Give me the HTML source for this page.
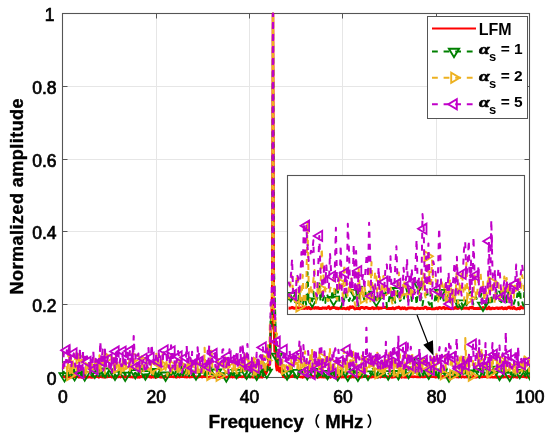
<!DOCTYPE html>
<html><head><meta charset="utf-8"><title>Normalized amplitude vs Frequency</title><style>
html,body{margin:0;padding:0;background:#fff;width:550px;height:438px;overflow:hidden}
svg{display:block}
text{font-family:"Liberation Sans","Noto Sans CJK SC",sans-serif;font-weight:bold;fill:#000}
.tk{font-weight:normal;stroke:#000;stroke-width:0.7px}
.lb{stroke:#000;stroke-width:0.35px}
</style></head><body>
<svg width="550" height="438" viewBox="0 0 550 438">
<rect x="0" y="0" width="550" height="438" fill="#fff"/>
<path d="M156.5,13.5V377.5M249.5,13.5V377.5M342.5,13.5V377.5M436.5,13.5V377.5M62.5,304.5H529.5M62.5,231.5H529.5M62.5,159.5H529.5M62.5,86.5H529.5" stroke="#e6e6e6" stroke-width="1" fill="none"/>
<path d="M62.5,377.5v-5M62.5,13.5v5M156.5,377.5v-5M156.5,13.5v5M249.5,377.5v-5M249.5,13.5v5M342.5,377.5v-5M342.5,13.5v5M436.5,377.5v-5M436.5,13.5v5M529.5,377.5v-5M529.5,13.5v5M62.5,377.5h5M529.5,377.5h-5M62.5,304.5h5M529.5,304.5h-5M62.5,231.5h5M529.5,231.5h-5M62.5,159.5h5M529.5,159.5h-5M62.5,86.5h5M529.5,86.5h-5M62.5,13.5h5M529.5,13.5h-5" stroke="#555555" stroke-width="1" fill="none"/>
<rect x="62.5" y="13.5" width="467.0" height="364.0" fill="none" stroke="#555555" stroke-width="1.1"/>
<defs><clipPath id="cm"><rect x="54.5" y="12.5" width="475.5" height="376.0"/></clipPath><clipPath id="ci"><rect x="288" y="176" width="236" height="138"/></clipPath></defs>
<g clip-path="url(#cm)">
<polyline points="62.9,376.7 63.7,376.3 64.5,376.6 65.2,377.1 66,377 66.8,376.4 67.6,377.4 68.3,376.5 69.1,376.5 69.9,376.9 70.7,377 71.5,377.1 72.2,377.1 73,376.9 73.8,376.9 74.6,376.8 75.4,375.7 76.1,376.5 76.9,376.7 77.7,375.9 78.5,377.1 79.2,377.2 80,376.7 80.8,377.3 81.6,377.4 82.4,376.8 83.1,376.9 83.9,376.3 84.7,376.7 85.5,376.8 86.2,376.9 87,377.1 87.8,377.4 88.6,377.1 89.4,376.7 90.1,377.1 90.9,377 91.7,377.5 92.5,376.5 93.3,377.2 94,377.1 94.8,376.4 95.6,376.8 96.4,376.4 97.1,376.7 97.9,376.6 98.7,377.3 99.5,376.8 100.3,376.8 101,376.4 101.8,377 102.6,376.8 103.4,377.3 104.2,377 104.9,377 105.7,377.2 106.5,376.5 107.3,377 108,376 108.8,376.8 109.6,376.8 110.4,376.7 111.2,376.7 111.9,377.2 112.7,376.9 113.5,377.1 114.3,376.9 115,377.3 115.8,376.1 116.6,377.1 117.4,376.7 118.2,377 118.9,376.4 119.7,376.7 120.5,377.2 121.3,376.4 122.1,376.2 122.8,376.3 123.6,376.8 124.4,377.2 125.2,377.1 125.9,376.2 126.7,376.8 127.5,377.2 128.3,376.4 129.1,376.7 129.8,376.8 130.6,377 131.4,376.9 132.2,377.1 133,377.3 133.7,376.4 134.5,376.9 135.3,376.8 136.1,377 136.8,376.6 137.6,377.4 138.4,377 139.2,377.4 140,377.2 140.7,376.1 141.5,376.7 142.3,376.9 143.1,376.8 143.8,376.4 144.6,377 145.4,376.8 146.2,376.7 147,377 147.7,376.8 148.5,376.6 149.3,376.3 150.1,377.2 150.9,376.2 151.6,377.4 152.4,376.6 153.2,376.5 154,377.2 154.7,376.9 155.5,376.5 156.3,377.4 157.1,376.7 157.9,376.5 158.6,376.8 159.4,376.6 160.2,377.1 161,377.1 161.7,377 162.5,377.2 163.3,377 164.1,376.2 164.9,376.8 165.6,377 166.4,377.1 167.2,376.2 168,376.9 168.8,376 169.5,376.8 170.3,376.8 171.1,376.3 171.9,376.6 172.6,376.8 173.4,376.9 174.2,376.4 175,376.9 175.8,376.3 176.5,377.3 177.3,376.9 178.1,376.8 178.9,376.2 179.7,377.1 180.4,376.5 181.2,376.7 182,376.6 182.8,376.7 183.5,376 184.3,377 185.1,376.9 185.9,377.1 186.7,377.3 187.4,377.1 188.2,376.3 189,376.5 189.8,377.2 190.5,376.8 191.3,376.9 192.1,376.8 192.9,376.7 193.7,377 194.4,376.1 195.2,376.9 196,376.7 196.8,376.7 197.6,377.2 198.3,377.3 199.1,376.9 199.9,376.6 200.7,376.5 201.4,376.6 202.2,377.2 203,376.3 203.8,376.5 204.6,376.4 205.3,376.8 206.1,376.3 206.9,377.3 207.7,377.4 208.4,377.4 209.2,377.1 210,377.1 210.8,377.1 211.6,376.8 212.3,377.3 213.1,376.8 213.9,377.2 214.7,376.7 215.5,377.4 216.2,377 217,376.2 217.8,376.8 218.6,376.5 219.3,376.7 220.1,376.7 220.9,377.1 221.7,376.8 222.5,377.3 223.2,376.5 224,376.1 224.8,376.4 225.6,377.3 226.3,377 227.1,377 227.9,377.2 228.7,376.7 229.5,376.5 230.2,377 231,376.4 231.8,376.5 232.6,377.2 233.4,376.6 234.1,376.4 234.9,377.1 235.7,376.8 236.5,376.7 237.2,376.8 238,377.3 238.8,376.7 239.6,376.7 240.4,376.5 241.1,376.5 241.9,377 242.7,376.6 243.5,376.4 244.3,376.3 245,377.2 245.8,377.4 246.6,376.7 247.4,377.1 248.1,376.8 248.9,376.2 249.7,377 250.5,377.1 251.3,376.9 252,376.7 252.8,377.2 253.6,377 254.4,377.2 255.1,376.7 255.9,376.5 256.7,377 257.5,377 258.3,376.8 259,377.1 259.8,377.1 260.6,377 261.4,376.9 262.2,377.3 262.9,376.6 263.7,368.8 264.5,372.2 265.3,374.7 266,373.5 266.8,372 267.6,368.8 268.4,364.1 269.2,349.4 269.9,364.5 270.7,332.2 271.5,322.8 272.3,289.7 273,13.5 273.8,316.4 274.6,351.2 275.4,335.6 276.2,365.6 276.9,370.1 277.7,356.1 278.5,361.2 279.3,371.5 280.1,371.5 280.8,363.6 281.6,373 282.4,369.3 283.2,376.8 283.9,376.6 284.7,377.1 285.5,377.1 286.3,376.8 287.1,376.6 287.8,376.3 288.6,377.2 289.4,377.2 290.2,376.5 291,376.7 291.7,376.6 292.5,375.7 293.3,376.2 294.1,376.4 294.8,376.6 295.6,377 296.4,376.7 297.2,377.2 298,376.6 298.7,376.6 299.5,376.6 300.3,376.9 301.1,377 301.8,376.9 302.6,377.4 303.4,376.4 304.2,376.8 305,377 305.7,376.8 306.5,376.6 307.3,377 308.1,376.5 308.9,376.3 309.6,377 310.4,377.2 311.2,376.6 312,375.8 312.7,377.2 313.5,376.6 314.3,376.5 315.1,376.3 315.9,377.2 316.6,377.3 317.4,375.9 318.2,377.2 319,377.2 319.8,376.8 320.5,376.9 321.3,376.6 322.1,377.1 322.9,376.3 323.6,377.1 324.4,376.6 325.2,377.3 326,376.9 326.8,377.4 327.5,377 328.3,377 329.1,376.6 329.9,376.9 330.6,377.3 331.4,375.7 332.2,376.4 333,376.3 333.8,377.1 334.5,377 335.3,377.1 336.1,377.2 336.9,377.4 337.7,376.9 338.4,377.2 339.2,377.2 340,376.4 340.8,376.9 341.5,377.2 342.3,376.7 343.1,377.1 343.9,376.8 344.7,377.1 345.4,376.8 346.2,376.7 347,376.8 347.8,377 348.5,376.5 349.3,376.4 350.1,377.2 350.9,377.2 351.7,377.2 352.4,376 353.2,376.2 354,377.1 354.8,376.1 355.6,377.1 356.3,376.9 357.1,376.9 357.9,376.3 358.7,377.3 359.4,377 360.2,376.8 361,377.3 361.8,377.1 362.6,376.9 363.3,376.4 364.1,376.6 364.9,376.5 365.7,376.6 366.4,376.6 367.2,376.4 368,376.7 368.8,376.6 369.6,377 370.3,377.2 371.1,376.6 371.9,377.2 372.7,376.3 373.5,376.8 374.2,377 375,376.2 375.8,377.2 376.6,376.8 377.3,377.3 378.1,376.1 378.9,376.8 379.7,376.5 380.5,377.1 381.2,376.5 382,376.6 382.8,376.7 383.6,376.2 384.4,376.9 385.1,376.9 385.9,376.7 386.7,376.5 387.5,377 388.2,376.7 389,377.1 389.8,376.8 390.6,376.6 391.4,377.3 392.1,376.6 392.9,377.4 393.7,376.1 394.5,376.9 395.2,376.9 396,376.6 396.8,376.8 397.6,376.6 398.4,377.3 399.1,376.8 399.9,376.8 400.7,376.2 401.5,377.3 402.3,376.9 403,376.7 403.8,376.8 404.6,377.3 405.4,376.8 406.1,377.1 406.9,377.1 407.7,376.4 408.5,377.1 409.3,376.9 410,376.6 410.8,376.6 411.6,376.8 412.4,376.5 413.1,376.9 413.9,376.7 414.7,376.5 415.5,376.7 416.3,376.7 417,376.9 417.8,376.8 418.6,377 419.4,376.6 420.2,377 420.9,376.9 421.7,376.6 422.5,376.9 423.3,377 424,376.5 424.8,377 425.6,376.4 426.4,376.5 427.2,376.9 427.9,376.6 428.7,377.4 429.5,377 430.3,376.4 431.1,376.8 431.8,376.8 432.6,376.7 433.4,376.7 434.2,376.8 434.9,376.9 435.7,377.2 436.5,377 437.3,377 438.1,376.9 438.8,375.5 439.6,377 440.4,376.9 441.2,377 441.9,376.8 442.7,376.2 443.5,376.4 444.3,377 445.1,377.1 445.8,376.4 446.6,376.9 447.4,376.7 448.2,377.3 449,376.4 449.7,377 450.5,376.9 451.3,377.1 452.1,376.9 452.8,376.5 453.6,376.5 454.4,376.9 455.2,376.6 456,376.9 456.7,377 457.5,376.8 458.3,377.1 459.1,377 459.8,376.6 460.6,376.6 461.4,377.3 462.2,376.6 463,376.5 463.7,376.9 464.5,377.3 465.3,376.7 466.1,377.1 466.9,376.7 467.6,377 468.4,376.7 469.2,377.1 470,376.9 470.7,376.8 471.5,376.7 472.3,377.1 473.1,376.1 473.9,377 474.6,377 475.4,377.1 476.2,377.3 477,376.9 477.8,376.6 478.5,376.6 479.3,377.1 480.1,377.2 480.9,377 481.6,376.6 482.4,376.9 483.2,376.3 484,376.7 484.8,376.7 485.5,376.6 486.3,376.6 487.1,377 487.9,377.1 488.6,376.9 489.4,376.9 490.2,377.2 491,376.9 491.8,376.7 492.5,377.2 493.3,377.2 494.1,377.2 494.9,377.1 495.7,376.1 496.4,377.4 497.2,377.2 498,377.2 498.8,376.9 499.5,377.4 500.3,376.9 501.1,377.2 501.9,377.1 502.7,376.5 503.4,377.2 504.2,376.7 505,376.9 505.8,376.9 506.5,376.5 507.3,377.2 508.1,376.3 508.9,376.3 509.7,376.7 510.4,377.3 511.2,376.7 512,376.8 512.8,376.6 513.6,377.1 514.3,376.1 515.1,376.4 515.9,377.2 516.7,377 517.4,377.4 518.2,376.5 519,376.3 519.8,375.8 520.6,376.7 521.3,376.7 522.1,376.7 522.9,376.8 523.7,376.2 524.5,376.8 525.2,377 526,376.8 526.8,377.4 527.6,376.6 528.3,376.7 529.1,376.9 529.9,376.4" fill="none" stroke="#ff0000" stroke-width="2.6" stroke-linejoin="round"/>
<polyline points="62.9,375.9 63.7,371.8 64.5,376 65.2,373.8 66,376.7 66.8,373.6 67.6,371.5 68.3,376.2 69.1,375 69.9,369.1 70.7,373.3 71.5,374.8 72.2,373.1 73,374.1 73.8,367.6 74.6,374.9 75.4,372.3 76.1,370.5 76.9,372.4 77.7,374.5 78.5,372.5 79.2,372.7 80,372.6 80.8,376.8 81.6,369.6 82.4,372.6 83.1,375.4 83.9,369.5 84.7,375 85.5,374 86.2,371.4 87,374.1 87.8,374.9 88.6,374.9 89.4,376.3 90.1,375.3 90.9,375 91.7,375.6 92.5,376.4 93.3,372 94,375.4 94.8,372.4 95.6,370.5 96.4,375 97.1,373.5 97.9,373.8 98.7,376.3 99.5,375.9 100.3,371.1 101,374 101.8,371.9 102.6,376.4 103.4,373.3 104.2,371.3 104.9,371.3 105.7,377.2 106.5,373.7 107.3,374.5 108,372.3 108.8,376.3 109.6,375.1 110.4,371.8 111.2,374 111.9,374.1 112.7,369.4 113.5,374.8 114.3,376.6 115,374.4 115.8,375.7 116.6,376.2 117.4,373.5 118.2,369.8 118.9,373.4 119.7,373 120.5,374.8 121.3,373.5 122.1,372.3 122.8,373.4 123.6,371.9 124.4,373.6 125.2,375.4 125.9,373.4 126.7,373.9 127.5,375.6 128.3,373.2 129.1,371.8 129.8,375.8 130.6,373.6 131.4,372.5 132.2,374.4 133,375 133.7,374.5 134.5,373.6 135.3,372.8 136.1,373.5 136.8,376 137.6,371.8 138.4,370.5 139.2,376.1 140,375.2 140.7,375.6 141.5,367.9 142.3,370.7 143.1,376.6 143.8,374.7 144.6,375.5 145.4,374 146.2,370.5 147,376.3 147.7,375.6 148.5,373.9 149.3,373.7 150.1,372.4 150.9,374.2 151.6,375.8 152.4,374.6 153.2,368.7 154,372.3 154.7,375 155.5,371.9 156.3,374.8 157.1,372.1 157.9,377 158.6,371.2 159.4,375.7 160.2,374.1 161,372.9 161.7,373.8 162.5,375.6 163.3,375.8 164.1,375 164.9,376.5 165.6,375.3 166.4,375.9 167.2,374 168,374.6 168.8,373.4 169.5,375 170.3,376.7 171.1,374.7 171.9,372.3 172.6,375.1 173.4,374.3 174.2,372.3 175,374.3 175.8,371 176.5,370.6 177.3,374.8 178.1,372.5 178.9,375.1 179.7,375.8 180.4,374.2 181.2,373.3 182,370.3 182.8,375.8 183.5,372.6 184.3,374 185.1,375.9 185.9,369.2 186.7,372.7 187.4,375.9 188.2,366.7 189,376.1 189.8,376.1 190.5,374.7 191.3,370.2 192.1,376.7 192.9,370.6 193.7,373.2 194.4,376.3 195.2,373.5 196,374.1 196.8,373.5 197.6,372.4 198.3,372.8 199.1,366.9 199.9,375.7 200.7,371.8 201.4,374.3 202.2,372.1 203,371 203.8,367.9 204.6,375.1 205.3,374.1 206.1,370.1 206.9,370 207.7,374.5 208.4,370.2 209.2,374.3 210,374.5 210.8,372.3 211.6,374 212.3,374.1 213.1,374.4 213.9,374.2 214.7,375.8 215.5,376.4 216.2,372.3 217,373.5 217.8,372.9 218.6,371.9 219.3,375.3 220.1,375.2 220.9,375 221.7,374.9 222.5,372.3 223.2,374.5 224,374.8 224.8,373.1 225.6,375.5 226.3,376 227.1,372.7 227.9,372.3 228.7,374.9 229.5,373.1 230.2,376.7 231,374.4 231.8,373.4 232.6,375.1 233.4,374.6 234.1,373.3 234.9,373.4 235.7,375.7 236.5,372.7 237.2,376.2 238,369.3 238.8,375.4 239.6,375.1 240.4,375.4 241.1,367.9 241.9,375 242.7,373.3 243.5,368 244.3,369.9 245,376.6 245.8,373.7 246.6,373.3 247.4,369.8 248.1,374.7 248.9,374.7 249.7,377.2 250.5,376.7 251.3,373.6 252,376.3 252.8,374.2 253.6,374.7 254.4,376.3 255.1,376.7 255.9,370.4 256.7,374.2 257.5,375.4 258.3,372.6 259,377.1 259.8,375.2 260.6,369.6 261.4,370.9 262.2,373.1 262.9,376.1 263.7,363.1 264.5,371.3 265.3,366.2 266,370.5 266.8,372.5 267.6,362.3 268.4,351.4 269.2,345.3 269.9,370.8 270.7,315.4 271.5,328.7 272.3,304.9 273,13.5 273.8,262.1 274.6,292.6 275.4,323.6 276.2,358 276.9,356.4 277.7,347.8 278.5,364.4 279.3,355.9 280.1,359.2 280.8,367.1 281.6,362.1 282.4,370.7 283.2,375.7 283.9,375.9 284.7,372.7 285.5,371.8 286.3,372.1 287.1,374.1 287.8,375.6 288.6,376.7 289.4,371.5 290.2,369 291,375.2 291.7,367.6 292.5,374.4 293.3,374.8 294.1,373.8 294.8,377.1 295.6,374.2 296.4,375.4 297.2,372.6 298,373.8 298.7,371.3 299.5,370.9 300.3,374.8 301.1,375 301.8,370.2 302.6,373.8 303.4,376.1 304.2,376.6 305,368.1 305.7,373.4 306.5,376.5 307.3,373.8 308.1,373.8 308.9,374.2 309.6,369.9 310.4,370 311.2,375.9 312,375.7 312.7,374.3 313.5,368.1 314.3,373.2 315.1,372.5 315.9,373.4 316.6,375.4 317.4,371.8 318.2,377 319,372.7 319.8,375.5 320.5,374 321.3,369.1 322.1,371.3 322.9,376.4 323.6,374.2 324.4,373 325.2,376.4 326,375.1 326.8,376.9 327.5,373.6 328.3,374.5 329.1,373.8 329.9,374.9 330.6,373 331.4,375.6 332.2,370.8 333,369.6 333.8,373.9 334.5,374 335.3,371.4 336.1,374.9 336.9,371.9 337.7,375 338.4,372.6 339.2,374.7 340,373.3 340.8,370.4 341.5,376.5 342.3,368.5 343.1,373.6 343.9,374.5 344.7,374.6 345.4,376.3 346.2,375.1 347,373.2 347.8,375.3 348.5,372.9 349.3,369.6 350.1,368.8 350.9,371 351.7,371.9 352.4,375.6 353.2,369.3 354,375.4 354.8,371.3 355.6,371.2 356.3,373.2 357.1,373.7 357.9,375.4 358.7,373.8 359.4,374.9 360.2,375.9 361,375.9 361.8,371.9 362.6,370.5 363.3,375.8 364.1,377 364.9,375.1 365.7,375.8 366.4,375.5 367.2,373.4 368,374.3 368.8,374.2 369.6,375.4 370.3,372.9 371.1,374.9 371.9,374.4 372.7,374 373.5,370.8 374.2,375.2 375,372.6 375.8,374.8 376.6,370.9 377.3,374.4 378.1,371.6 378.9,371.2 379.7,372.9 380.5,376.1 381.2,375.8 382,368 382.8,376.7 383.6,373.3 384.4,369.7 385.1,377 385.9,375.7 386.7,375.4 387.5,376.2 388.2,374 389,373.4 389.8,374.8 390.6,376 391.4,371.9 392.1,371.9 392.9,373.5 393.7,375.8 394.5,373.6 395.2,373.1 396,374.2 396.8,371.3 397.6,374.4 398.4,373.8 399.1,376 399.9,373.5 400.7,372.2 401.5,372.5 402.3,375.1 403,367.9 403.8,369.6 404.6,374.3 405.4,374.3 406.1,368.9 406.9,375.6 407.7,373.1 408.5,372.6 409.3,373.8 410,367.4 410.8,374 411.6,374 412.4,375 413.1,370.6 413.9,374.8 414.7,372.7 415.5,374.3 416.3,370.3 417,370 417.8,376.7 418.6,361.5 419.4,373.3 420.2,376.3 420.9,373.9 421.7,376.5 422.5,373.6 423.3,375.5 424,372.8 424.8,374.9 425.6,373.3 426.4,371.7 427.2,370.2 427.9,373.1 428.7,373.5 429.5,377.2 430.3,374.5 431.1,369.6 431.8,375.9 432.6,371.3 433.4,373 434.2,374.9 434.9,372.1 435.7,374.9 436.5,370.9 437.3,376.2 438.1,375.9 438.8,372.3 439.6,374.1 440.4,375.8 441.2,373.8 441.9,374.9 442.7,373.6 443.5,372.4 444.3,371.4 445.1,376.4 445.8,373.4 446.6,368.6 447.4,374.1 448.2,372.2 449,376.1 449.7,371.2 450.5,373.4 451.3,371 452.1,372.1 452.8,371.3 453.6,376.4 454.4,372.6 455.2,375.5 456,375.1 456.7,374.8 457.5,373.4 458.3,373.1 459.1,370.3 459.8,377 460.6,375.5 461.4,374.6 462.2,371.8 463,373.6 463.7,373.8 464.5,372.3 465.3,373 466.1,374.9 466.9,376.2 467.6,374.1 468.4,371.1 469.2,373.3 470,376.5 470.7,374.2 471.5,374.5 472.3,373.4 473.1,373.4 473.9,369.9 474.6,373 475.4,374.3 476.2,373.2 477,371 477.8,369.8 478.5,374 479.3,371.8 480.1,371.8 480.9,369.5 481.6,375 482.4,375.9 483.2,371.7 484,374.9 484.8,371.5 485.5,373.3 486.3,373.8 487.1,376.2 487.9,372.1 488.6,376.4 489.4,369.5 490.2,371.2 491,374.9 491.8,375.9 492.5,371.1 493.3,374 494.1,375.9 494.9,373.9 495.7,375.2 496.4,374.3 497.2,373.1 498,370.6 498.8,371.9 499.5,374.6 500.3,374 501.1,373.9 501.9,368.2 502.7,376.2 503.4,373.8 504.2,366.5 505,374.4 505.8,375.1 506.5,373.6 507.3,374.8 508.1,370.4 508.9,376.2 509.7,375.4 510.4,376.2 511.2,372.6 512,374.9 512.8,370.9 513.6,371 514.3,370.2 515.1,375.1 515.9,377.4 516.7,374.4 517.4,369.6 518.2,372.2 519,376.4 519.8,372.7 520.6,370.6 521.3,369.4 522.1,372.6 522.9,371.3 523.7,371.6 524.5,374.6 525.2,376.1 526,372.5 526.8,375.8 527.6,374.5 528.3,367.3 529.1,373.5 529.9,373.7" fill="none" stroke="#008000" stroke-width="2.1" stroke-dasharray="6,6" stroke-linejoin="round"/><path d="M59.4,373.1 69.6,373.1 64.5,381.6ZM69.5,372.1 79.7,372.1 74.6,380.6ZM79.6,372.2 89.8,372.2 84.7,380.7ZM89.7,369.6 99.9,369.6 94.8,378.1ZM99.8,368.5 110,368.5 104.9,377ZM109.9,371.6 120.1,371.6 115,380.1ZM120.1,372.6 130.3,372.6 125.2,381.1ZM130.2,370 140.4,370 135.3,378.5ZM140.3,371.2 150.5,371.2 145.4,379.7ZM150.4,369 160.6,369 155.5,377.5ZM160.5,372.5 170.7,372.5 165.6,381ZM170.7,368.2 180.9,368.2 175.8,376.7ZM180.8,366.4 191,366.4 185.9,374.9ZM190.9,371.2 201.1,371.2 196,379.7ZM201,367.3 211.2,367.3 206.1,375.8ZM211.1,369.5 221.3,369.5 216.2,378ZM221.2,373.2 231.4,373.2 226.3,381.7ZM231.4,369.8 241.6,369.8 236.5,378.3ZM241.5,370.5 251.7,370.5 246.6,379ZM251.6,371.4 261.8,371.4 256.7,379.9ZM261.7,369.6 271.9,369.6 266.8,378.1ZM271.8,353.6 282,353.6 276.9,362.1ZM282,371.3 292.2,371.3 287.1,379.8ZM292.1,369.8 302.3,369.8 297.2,378.3ZM302.2,371 312.4,371 307.3,379.5ZM312.3,369 322.5,369 317.4,377.5ZM322.4,370.8 332.6,370.8 327.5,379.3ZM332.6,372.1 342.8,372.1 337.7,380.6ZM342.7,372.4 352.9,372.4 347.8,380.9ZM352.8,372.6 363,372.6 357.9,381.1ZM362.9,371.4 373.1,371.4 368,379.9ZM373,368.8 383.2,368.8 378.1,377.3ZM383.1,371.2 393.3,371.2 388.2,379.7ZM393.3,371 403.5,371 398.4,379.5ZM403.4,369.7 413.6,369.7 408.5,378.2ZM413.5,358.7 423.7,358.7 418.6,367.2ZM423.6,370.6 433.8,370.6 428.7,379.1ZM433.7,369.5 443.9,369.5 438.8,378ZM443.9,373.3 454.1,373.3 449,381.8ZM454,367.5 464.2,367.5 459.1,376ZM464.1,370.5 474.3,370.5 469.2,379ZM474.2,369 484.4,369 479.3,377.5ZM484.3,366.6 494.5,366.6 489.4,375.1ZM494.4,371.7 504.6,371.7 499.5,380.2ZM504.6,372.6 514.8,372.6 509.7,381.1ZM514.7,369.8 524.9,369.8 519.8,378.3ZM524.8,370.9 535,370.9 529.9,379.4Z" fill="none" stroke="#008000" stroke-width="1.8"/>
<polyline points="62.9,363 63.7,365 64.5,369.7 65.2,366.7 66,365.6 66.8,366.7 67.6,373.3 68.3,350.5 69.1,354.7 69.9,375.1 70.7,356.5 71.5,366.7 72.2,373 73,361.3 73.8,368.2 74.6,355.4 75.4,361.1 76.1,366.6 76.9,374.7 77.7,351.5 78.5,364.1 79.2,358.3 80,370.6 80.8,362.2 81.6,359.7 82.4,369.3 83.1,368.5 83.9,369.6 84.7,376.6 85.5,371.2 86.2,369.7 87,373.3 87.8,362.6 88.6,368.3 89.4,366.2 90.1,370.4 90.9,369.2 91.7,362.9 92.5,367.7 93.3,365.7 94,368.3 94.8,366.4 95.6,358.9 96.4,366.5 97.1,366.9 97.9,364.2 98.7,373.8 99.5,355.2 100.3,367.2 101,370.9 101.8,362.7 102.6,361.4 103.4,365.2 104.2,358 104.9,373.7 105.7,366.8 106.5,354.5 107.3,358 108,365 108.8,365.6 109.6,368.8 110.4,366.1 111.2,366.4 111.9,358.5 112.7,361.1 113.5,363.2 114.3,357.7 115,374.3 115.8,362.5 116.6,367.7 117.4,362.9 118.2,370.2 118.9,367.7 119.7,361.2 120.5,375.2 121.3,365.9 122.1,367.4 122.8,360.4 123.6,370.6 124.4,361.2 125.2,371 125.9,365.6 126.7,366.4 127.5,364.8 128.3,359.5 129.1,359.5 129.8,370.9 130.6,363 131.4,365.1 132.2,368.9 133,362.4 133.7,358.9 134.5,361.5 135.3,358.1 136.1,372.9 136.8,372.2 137.6,362.6 138.4,370 139.2,365.9 140,367.3 140.7,372.6 141.5,362.9 142.3,363.1 143.1,372.6 143.8,370.7 144.6,361.8 145.4,358.2 146.2,359.9 147,367.2 147.7,369.1 148.5,368 149.3,372.1 150.1,367.3 150.9,371.2 151.6,372.3 152.4,368.9 153.2,374.3 154,367.7 154.7,364 155.5,364.8 156.3,353.7 157.1,359.3 157.9,365.1 158.6,358.8 159.4,368 160.2,361.9 161,370.4 161.7,366.8 162.5,353.1 163.3,365.7 164.1,367.1 164.9,362.1 165.6,369.9 166.4,361 167.2,375.8 168,371.1 168.8,372 169.5,370.8 170.3,356.4 171.1,375.6 171.9,370.1 172.6,366.1 173.4,363.9 174.2,362.4 175,368.9 175.8,371.3 176.5,360.4 177.3,370.4 178.1,374.3 178.9,371.2 179.7,367.3 180.4,356.6 181.2,363.4 182,366.2 182.8,366.9 183.5,364.1 184.3,365.2 185.1,369.6 185.9,373.6 186.7,371.6 187.4,362.2 188.2,365.1 189,361.9 189.8,374.9 190.5,358.7 191.3,368.9 192.1,357.6 192.9,365.8 193.7,366.5 194.4,361.4 195.2,365.3 196,364.4 196.8,372.4 197.6,365.6 198.3,369.3 199.1,372 199.9,370 200.7,367.5 201.4,370.7 202.2,362.6 203,373 203.8,376 204.6,347.7 205.3,365.4 206.1,367.1 206.9,371.5 207.7,371.5 208.4,368.6 209.2,362.1 210,375 210.8,350.9 211.6,350.9 212.3,366.3 213.1,369.2 213.9,371.1 214.7,371.9 215.5,369.8 216.2,350.2 217,376.8 217.8,362.2 218.6,356.8 219.3,375.8 220.1,374.2 220.9,363.3 221.7,364.4 222.5,369.9 223.2,360.1 224,371.5 224.8,368.3 225.6,373.2 226.3,357.4 227.1,373.8 227.9,372 228.7,362.6 229.5,367.2 230.2,364.6 231,363.3 231.8,365.6 232.6,371.7 233.4,364 234.1,370.6 234.9,370.6 235.7,368 236.5,373.2 237.2,373.4 238,364.8 238.8,363.1 239.6,369.1 240.4,368.8 241.1,371.5 241.9,366.9 242.7,366 243.5,357.2 244.3,375 245,358.4 245.8,350.8 246.6,369.4 247.4,363.4 248.1,361.2 248.9,364.8 249.7,370.3 250.5,365.3 251.3,359.6 252,373.3 252.8,367.5 253.6,375.6 254.4,360.6 255.1,362.3 255.9,374.8 256.7,363 257.5,364.1 258.3,373 259,366.8 259.8,364.1 260.6,369.6 261.4,367.2 262.2,353.6 262.9,365.1 263.7,363.2 264.5,368 265.3,373.1 266,360.5 266.8,358.6 267.6,345.2 268.4,352 269.2,360.8 269.9,324.6 270.7,331.8 271.5,323.9 272.3,272.5 273,13.5 273.8,291.2 274.6,331.2 275.4,317.9 276.2,338.7 276.9,333.6 277.7,360.3 278.5,346.3 279.3,353.4 280.1,368 280.8,365.6 281.6,364.6 282.4,360.1 283.2,367.1 283.9,365.2 284.7,369 285.5,372.5 286.3,365.2 287.1,367.4 287.8,369.5 288.6,370.7 289.4,364 290.2,369.9 291,366.1 291.7,370.7 292.5,362.9 293.3,363.9 294.1,361.6 294.8,357.5 295.6,363.6 296.4,363.2 297.2,369.5 298,360.8 298.7,368.9 299.5,351.4 300.3,347.8 301.1,364.7 301.8,361 302.6,366.6 303.4,363.3 304.2,373 305,351.4 305.7,361.8 306.5,372.7 307.3,371 308.1,366.1 308.9,362.7 309.6,372.5 310.4,355.3 311.2,369.4 312,349.1 312.7,362.9 313.5,367.4 314.3,369.2 315.1,373.6 315.9,373.8 316.6,365.2 317.4,362.4 318.2,358.4 319,369.2 319.8,356.9 320.5,370.2 321.3,356.8 322.1,357.9 322.9,372.4 323.6,360.2 324.4,363.9 325.2,355.7 326,360.8 326.8,366.7 327.5,367.1 328.3,369.1 329.1,360 329.9,347.4 330.6,372.3 331.4,362.5 332.2,370.5 333,371.9 333.8,371.7 334.5,366.1 335.3,370.4 336.1,367.1 336.9,373.5 337.7,369.8 338.4,362.4 339.2,375.7 340,367.5 340.8,365.6 341.5,374.7 342.3,370.2 343.1,358.5 343.9,349.4 344.7,360.5 345.4,372.2 346.2,362.7 347,367.9 347.8,372.2 348.5,367.5 349.3,357.7 350.1,359.6 350.9,368.8 351.7,374.3 352.4,358.7 353.2,351.9 354,367 354.8,371.3 355.6,366.6 356.3,364 357.1,367.5 357.9,369.4 358.7,370.9 359.4,370.2 360.2,374.7 361,370.8 361.8,355.9 362.6,376.4 363.3,363.4 364.1,362.1 364.9,368.6 365.7,365.8 366.4,371.3 367.2,364.5 368,363.8 368.8,363.3 369.6,367.3 370.3,354.3 371.1,360 371.9,366.1 372.7,364.3 373.5,370.5 374.2,356.5 375,364.9 375.8,359 376.6,366 377.3,352.7 378.1,373.4 378.9,366.8 379.7,373.3 380.5,371.8 381.2,362.7 382,374.3 382.8,368.9 383.6,371.8 384.4,360.5 385.1,371.7 385.9,369.6 386.7,360.3 387.5,364.2 388.2,363.9 389,350.6 389.8,375.6 390.6,364.6 391.4,363.1 392.1,363 392.9,355.4 393.7,374.1 394.5,373.8 395.2,362.5 396,358.3 396.8,370.7 397.6,376.3 398.4,366.7 399.1,373.7 399.9,354.3 400.7,369.5 401.5,361.6 402.3,373.6 403,367.3 403.8,373.5 404.6,362.3 405.4,366.3 406.1,371.1 406.9,355.1 407.7,364.3 408.5,369.6 409.3,360.3 410,363.8 410.8,356.6 411.6,370.2 412.4,352.3 413.1,374.4 413.9,363.3 414.7,370.2 415.5,368.3 416.3,365.1 417,374.8 417.8,371.3 418.6,373.4 419.4,363.2 420.2,371.3 420.9,367.2 421.7,369.7 422.5,367.2 423.3,357.1 424,367.1 424.8,364.8 425.6,363.9 426.4,361.3 427.2,370.7 427.9,374 428.7,367.7 429.5,372.2 430.3,375.7 431.1,357.9 431.8,365.2 432.6,368.5 433.4,372.8 434.2,362.7 434.9,366.7 435.7,372.1 436.5,352.7 437.3,356.1 438.1,357.5 438.8,361.1 439.6,360.3 440.4,370.1 441.2,364.8 441.9,372.5 442.7,365.4 443.5,374.3 444.3,375.2 445.1,355.3 445.8,369.5 446.6,364 447.4,362.3 448.2,360.9 449,358.2 449.7,360.6 450.5,364.7 451.3,357.5 452.1,358.9 452.8,374.9 453.6,370.6 454.4,368.8 455.2,370.8 456,372 456.7,359.7 457.5,375.5 458.3,372 459.1,362.7 459.8,371.3 460.6,370.7 461.4,354.6 462.2,362.7 463,368 463.7,372.8 464.5,370.6 465.3,338.1 466.1,362 466.9,374.2 467.6,355.6 468.4,369 469.2,363.6 470,370.2 470.7,372.9 471.5,375.8 472.3,370.2 473.1,360.2 473.9,359.1 474.6,364.3 475.4,363 476.2,371.8 477,364.4 477.8,358.8 478.5,351.9 479.3,368 480.1,362.4 480.9,357.2 481.6,347.7 482.4,370.2 483.2,364.8 484,368.8 484.8,367.7 485.5,361.9 486.3,370.4 487.1,375.8 487.9,362.6 488.6,364 489.4,360.8 490.2,372.5 491,371.1 491.8,365.7 492.5,357 493.3,367.6 494.1,371.7 494.9,365.8 495.7,355.5 496.4,359.9 497.2,358.8 498,368.5 498.8,370.7 499.5,359.8 500.3,362.1 501.1,360.4 501.9,368.8 502.7,370.3 503.4,371 504.2,359.8 505,357.9 505.8,369.1 506.5,359.7 507.3,368.9 508.1,368 508.9,366.2 509.7,371.3 510.4,370.6 511.2,370.6 512,370.7 512.8,367 513.6,373.5 514.3,362.3 515.1,372.1 515.9,368 516.7,365 517.4,372.7 518.2,368.5 519,366.3 519.8,366.5 520.6,359 521.3,362.2 522.1,373.1 522.9,361 523.7,366.5 524.5,356.5 525.2,372.3 526,367.6 526.8,363.9 527.6,361.9 528.3,361.7 529.1,371.4 529.9,361" fill="none" stroke="#edb120" stroke-width="2.1" stroke-dasharray="6,6" stroke-linejoin="round"/><path d="M67.1,370 67.1,380.2 75.6,375.1ZM76.4,353.2 76.4,363.4 84.9,358.3ZM85.8,363.2 85.8,373.4 94.3,368.3ZM95.1,359.1 95.1,369.3 103.6,364.2ZM104.4,352.9 104.4,363.1 112.9,358ZM113.8,362.6 113.8,372.8 122.3,367.7ZM123.1,360.5 123.1,370.7 131.6,365.6ZM132.5,353 132.5,363.2 141,358.1ZM141.8,356.7 141.8,366.9 150.3,361.8ZM151.1,362.6 151.1,372.8 159.6,367.7ZM160.5,360.6 160.5,370.8 169,365.7ZM169.8,361 169.8,371.2 178.3,366.1ZM179.2,361.1 179.2,371.3 187.7,366.2ZM188.5,363.8 188.5,374 197,368.9ZM197.8,362.4 197.8,372.6 206.3,367.5ZM207.2,369.9 207.2,380.1 215.7,375ZM216.5,370.7 216.5,380.9 225,375.8ZM225.9,357.5 225.9,367.7 234.4,362.6ZM235.2,359.7 235.2,369.9 243.7,364.8ZM244.5,358.3 244.5,368.5 253,363.4ZM253.9,357.9 253.9,368.1 262.4,363ZM263.2,355.4 263.2,365.6 271.7,360.5ZM281.9,363.9 281.9,374.1 290.4,369ZM291.2,356.5 291.2,366.7 299.7,361.6ZM300.6,358.2 300.6,368.4 309.1,363.3ZM309.9,357.8 309.9,368 318.4,362.9ZM319.3,352.8 319.3,363 327.8,357.9ZM328.6,357.4 328.6,367.6 337.1,362.5ZM337.9,360.5 337.9,370.7 346.4,365.6ZM347.3,354.5 347.3,364.7 355.8,359.6ZM356.6,365.1 356.6,375.3 365.1,370.2ZM366,358.2 366,368.4 374.5,363.3ZM375.3,368.3 375.3,378.5 383.8,373.4ZM384.6,359.1 384.6,369.3 393.1,364.2ZM394,365.6 394,375.8 402.5,370.7ZM403.3,366 403.3,376.2 411.8,371.1ZM412.7,363.2 412.7,373.4 421.2,368.3ZM422,359.7 422,369.9 430.5,364.8ZM431.3,357.6 431.3,367.8 439.8,362.7ZM440.7,369.2 440.7,379.4 449.2,374.3ZM450,369.8 450,380 458.5,374.9ZM459.4,357.6 459.4,367.8 467.9,362.7ZM468.7,370.7 468.7,380.9 477.2,375.8ZM478,352.1 478,362.3 486.5,357.2ZM487.4,367.4 487.4,377.6 495.9,372.5ZM496.7,354.7 496.7,364.9 505.2,359.8ZM506.1,361.1 506.1,371.3 514.6,366.2ZM515.4,363.4 515.4,373.6 523.9,368.5ZM524.7,356.8 524.7,367 533.2,361.9Z" fill="none" stroke="#edb120" stroke-width="1.8"/>
<polyline points="62.9,369.2 63.7,353.1 64.5,367.8 65.2,361.5 66,362.5 66.8,350.2 67.6,360.2 68.3,362.7 69.1,343.6 69.9,364.1 70.7,356.4 71.5,366.3 72.2,355.6 73,355.8 73.8,353.4 74.6,361.6 75.4,366.6 76.1,358.6 76.9,349.8 77.7,364.9 78.5,372.3 79.2,367.4 80,348.4 80.8,373.3 81.6,370.8 82.4,369.5 83.1,350.8 83.9,363.5 84.7,357.3 85.5,356.9 86.2,362.5 87,356.3 87.8,362 88.6,360.5 89.4,364.9 90.1,373.9 90.9,359.5 91.7,365.7 92.5,365.5 93.3,351.4 94,363.9 94.8,369.3 95.6,358.7 96.4,360.6 97.1,370.7 97.9,364.1 98.7,359.1 99.5,365.4 100.3,341.6 101,354.4 101.8,361.2 102.6,349.5 103.4,370.7 104.2,366.5 104.9,349.5 105.7,361.1 106.5,367.7 107.3,359.9 108,356.3 108.8,359.2 109.6,371.1 110.4,371.5 111.2,363.1 111.9,372.5 112.7,369.9 113.5,358.4 114.3,362.5 115,369.8 115.8,351.5 116.6,363.8 117.4,351.2 118.2,359.1 118.9,358.9 119.7,362.7 120.5,357.7 121.3,366.2 122.1,365.9 122.8,351.6 123.6,367 124.4,363.4 125.2,355.9 125.9,364.5 126.7,360.6 127.5,349.9 128.3,366.9 129.1,366.2 129.8,351 130.6,365.5 131.4,364.5 132.2,351.3 133,364.7 133.7,336.1 134.5,353.6 135.3,352.7 136.1,366.5 136.8,366.7 137.6,355.7 138.4,353.5 139.2,366.5 140,366.9 140.7,366.2 141.5,368.4 142.3,362.8 143.1,361.2 143.8,358.7 144.6,370.8 145.4,367.2 146.2,369 147,365.6 147.7,367.4 148.5,348.1 149.3,363.7 150.1,368.4 150.9,357.9 151.6,344.3 152.4,354.5 153.2,358.3 154,363.6 154.7,363.1 155.5,365 156.3,354.1 157.1,354.2 157.9,361.5 158.6,352.1 159.4,358.2 160.2,357.4 161,365.7 161.7,366.2 162.5,366.5 163.3,349.7 164.1,354.3 164.9,350.4 165.6,353.6 166.4,354.2 167.2,362.5 168,355.4 168.8,367.8 169.5,358.1 170.3,371.3 171.1,345.3 171.9,351.4 172.6,367.8 173.4,355.3 174.2,353.6 175,371.3 175.8,360 176.5,362.8 177.3,358.9 178.1,351.1 178.9,356.5 179.7,366.8 180.4,360.2 181.2,360.1 182,372.9 182.8,368.6 183.5,363.9 184.3,367.5 185.1,366.3 185.9,357.6 186.7,345.8 187.4,362.1 188.2,358.3 189,355.5 189.8,357.7 190.5,358.1 191.3,374 192.1,351.8 192.9,367.9 193.7,367.5 194.4,361.1 195.2,359.6 196,355.6 196.8,365.2 197.6,347.4 198.3,358.7 199.1,352.8 199.9,361.7 200.7,370.3 201.4,372.3 202.2,358.5 203,362.7 203.8,362.4 204.6,364.6 205.3,367.5 206.1,361.8 206.9,365.9 207.7,350.7 208.4,367.5 209.2,345 210,352.2 210.8,363.5 211.6,355.2 212.3,359.7 213.1,361.9 213.9,354 214.7,353.3 215.5,367 216.2,350 217,371.7 217.8,373.4 218.6,361.6 219.3,365 220.1,362.8 220.9,361.7 221.7,361.9 222.5,349.9 223.2,349.3 224,364.2 224.8,365.3 225.6,358.1 226.3,367.1 227.1,363.2 227.9,356.6 228.7,373.4 229.5,349.4 230.2,356.2 231,363.4 231.8,366.1 232.6,360.5 233.4,365.1 234.1,353.7 234.9,359.5 235.7,364.9 236.5,354.1 237.2,359.2 238,368.6 238.8,362.9 239.6,361.5 240.4,347.4 241.1,364.7 241.9,362.3 242.7,343.6 243.5,362.7 244.3,353.4 245,369.5 245.8,363.3 246.6,367.4 247.4,344.1 248.1,356 248.9,366.7 249.7,369.6 250.5,362.8 251.3,369.5 252,357.7 252.8,356.4 253.6,364.9 254.4,367.8 255.1,363.9 255.9,367.8 256.7,352.8 257.5,368 258.3,356 259,364.4 259.8,356.4 260.6,355.2 261.4,368.5 262.2,355.6 262.9,347.4 263.7,360 264.5,358.3 265.3,359.9 266,351.8 266.8,350.4 267.6,346.2 268.4,360.5 269.2,353.6 269.9,363.7 270.7,302.4 271.5,307.7 272.3,246.2 273,13.5 273.8,313 274.6,285.1 275.4,335.4 276.2,346.9 276.9,341.8 277.7,359.8 278.5,355.5 279.3,349.6 280.1,366.4 280.8,356 281.6,364.4 282.4,358.2 283.2,357.6 283.9,349.9 284.7,351.7 285.5,362.5 286.3,357.3 287.1,367.4 287.8,369.5 288.6,356.7 289.4,350 290.2,355.9 291,361 291.7,358.7 292.5,356.3 293.3,359.9 294.1,363.9 294.8,352.6 295.6,363.8 296.4,350.2 297.2,354.4 298,354.6 298.7,353.2 299.5,341.4 300.3,340.4 301.1,361.3 301.8,363.6 302.6,356.2 303.4,345 304.2,358.7 305,372 305.7,371.4 306.5,362 307.3,354.7 308.1,351 308.9,363.6 309.6,361 310.4,361.1 311.2,369.6 312,374.1 312.7,360.8 313.5,361.2 314.3,352.1 315.1,367.4 315.9,352.5 316.6,365.6 317.4,360.5 318.2,356.9 319,368.3 319.8,347.3 320.5,346.2 321.3,344.7 322.1,373.8 322.9,358.4 323.6,357.8 324.4,351.4 325.2,367 326,368.8 326.8,354 327.5,365.8 328.3,370.4 329.1,369.6 329.9,358.3 330.6,360.6 331.4,355.9 332.2,354.1 333,373.8 333.8,348.4 334.5,351.4 335.3,348.3 336.1,355.3 336.9,363.5 337.7,366.1 338.4,349.7 339.2,362.8 340,361.5 340.8,357.1 341.5,357.4 342.3,357.2 343.1,358.8 343.9,361.1 344.7,355.3 345.4,363.3 346.2,365.8 347,349.9 347.8,352.8 348.5,356.6 349.3,367.7 350.1,371.1 350.9,349.1 351.7,347.6 352.4,365.6 353.2,358.7 354,371.8 354.8,363.3 355.6,351.7 356.3,363.9 357.1,354.1 357.9,349.7 358.7,368.5 359.4,357.4 360.2,363.6 361,367.6 361.8,364.1 362.6,361.6 363.3,350.6 364.1,355.4 364.9,373.4 365.7,370.7 366.4,327.8 367.2,360.2 368,359.1 368.8,364.1 369.6,353.3 370.3,360.2 371.1,359.5 371.9,366 372.7,355 373.5,366.8 374.2,368.5 375,359.4 375.8,353.3 376.6,365.2 377.3,365 378.1,368.2 378.9,359.2 379.7,355.2 380.5,368.7 381.2,360.6 382,360.5 382.8,369.2 383.6,360.7 384.4,365.6 385.1,367.1 385.9,341.7 386.7,369.7 387.5,364.2 388.2,354.2 389,363.1 389.8,372.4 390.6,352 391.4,363.7 392.1,363 392.9,349.9 393.7,344.8 394.5,349.5 395.2,363 396,356 396.8,352.7 397.6,367.1 398.4,335.8 399.1,369.4 399.9,358.1 400.7,366.2 401.5,366.7 402.3,368.5 403,347.7 403.8,368.7 404.6,349.7 405.4,367.8 406.1,364.5 406.9,366.8 407.7,341 408.5,369.6 409.3,352.2 410,365 410.8,346.8 411.6,355.8 412.4,365.8 413.1,361.1 413.9,367.9 414.7,363 415.5,372 416.3,357.5 417,359.5 417.8,365.6 418.6,372.7 419.4,347.9 420.2,368.8 420.9,364.5 421.7,372 422.5,363.5 423.3,363.2 424,360.7 424.8,364.6 425.6,366 426.4,354.8 427.2,365.5 427.9,364.5 428.7,361.5 429.5,365.6 430.3,356.4 431.1,369.9 431.8,364.6 432.6,359.3 433.4,365.9 434.2,353 434.9,364 435.7,362.8 436.5,361.9 437.3,353.3 438.1,366.7 438.8,353.4 439.6,347.1 440.4,365.7 441.2,367.7 441.9,354.7 442.7,364.8 443.5,366.5 444.3,370 445.1,359 445.8,348.1 446.6,351.3 447.4,359.5 448.2,362.5 449,343.7 449.7,358 450.5,346.4 451.3,357.4 452.1,357.2 452.8,357.1 453.6,368.7 454.4,366 455.2,370.4 456,348.4 456.7,338.2 457.5,359.2 458.3,368 459.1,368.8 459.8,362.3 460.6,363.4 461.4,367.1 462.2,369.7 463,358.3 463.7,354.6 464.5,370.5 465.3,362 466.1,365 466.9,360.5 467.6,359.2 468.4,363 469.2,352 470,363.4 470.7,365 471.5,355.3 472.3,352.9 473.1,344.5 473.9,367.7 474.6,367.1 475.4,362 476.2,345 477,358.9 477.8,358.8 478.5,364.6 479.3,340.2 480.1,367.4 480.9,360.1 481.6,357.7 482.4,354 483.2,353.9 484,360.1 484.8,365.6 485.5,343.1 486.3,360.3 487.1,365.4 487.9,368.4 488.6,354.2 489.4,352.7 490.2,359.9 491,363.5 491.8,353 492.5,343 493.3,359.8 494.1,354.7 494.9,351.3 495.7,349.9 496.4,361.6 497.2,367.5 498,357.2 498.8,353.3 499.5,345.6 500.3,368.1 501.1,369 501.9,358.5 502.7,353.4 503.4,370.1 504.2,359 505,363 505.8,331.9 506.5,363.9 507.3,369.9 508.1,354.9 508.9,365 509.7,362.8 510.4,368.6 511.2,364.5 512,368.6 512.8,365.9 513.6,359.8 514.3,365.1 515.1,357.8 515.9,350.3 516.7,359.8 517.4,371.9 518.2,346 519,367.1 519.8,364.2 520.6,360.8 521.3,358.9 522.1,364.3 522.9,362.4 523.7,358.7 524.5,362.1 525.2,365.4 526,363 526.8,363.5 527.6,365.2 528.3,359.3 529.1,361.1 529.9,363" fill="none" stroke="#c000c8" stroke-width="2.1" stroke-dasharray="6,6" stroke-linejoin="round"/><path d="M69.6,345.1 69.6,355.3 61.1,350.2ZM76.6,348.3 76.6,358.5 68.1,353.4ZM83.6,368.2 83.6,378.4 75.1,373.3ZM90.6,356.9 90.6,367.1 82.1,362ZM97.6,364.2 97.6,374.4 89.1,369.3ZM104.6,356.1 104.6,366.3 96.1,361.2ZM111.7,354.1 111.7,364.3 103.2,359.2ZM118.7,346.4 118.7,356.6 110.2,351.5ZM125.7,346.5 125.7,356.7 117.2,351.6ZM132.7,345.9 132.7,356.1 124.2,351ZM139.7,361.6 139.7,371.8 131.2,366.7ZM146.7,353.6 146.7,363.8 138.2,358.7ZM153.7,352.8 153.7,363 145.2,357.9ZM160.7,356.4 160.7,366.6 152.2,361.5ZM167.7,345.3 167.7,355.5 159.2,350.4ZM174.7,346.3 174.7,356.5 166.2,351.4ZM181.7,351.4 181.7,361.6 173.2,356.5ZM188.7,352.5 188.7,362.7 180.2,357.6ZM195.7,362.8 195.7,373 187.2,367.9ZM202.7,356.6 202.7,366.8 194.2,361.7ZM209.7,360.8 209.7,371 201.2,365.9ZM216.7,348.9 216.7,359.1 208.2,354ZM223.7,356.6 223.7,366.8 215.2,361.7ZM230.7,351.5 230.7,361.7 222.2,356.6ZM237.7,354.4 237.7,364.6 229.2,359.5ZM244.8,357.2 244.8,367.4 236.2,362.3ZM251.8,361.6 251.8,371.8 243.3,366.7ZM258.8,362.7 258.8,372.9 250.3,367.8ZM265.8,342.3 265.8,352.5 257.3,347.4ZM279.8,336.7 279.8,346.9 271.3,341.8ZM286.8,344.8 286.8,355 278.3,349.9ZM293.8,355.9 293.8,366.1 285.3,361ZM300.8,349.5 300.8,359.7 292.3,354.6ZM307.8,366.9 307.8,377.1 299.3,372ZM314.8,369 314.8,379.2 306.3,374.1ZM321.8,363.2 321.8,373.4 313.3,368.3ZM328.8,363.7 328.8,373.9 320.3,368.8ZM335.8,368.7 335.8,378.9 327.3,373.8ZM342.8,356.4 342.8,366.6 334.3,361.5ZM349.8,344.8 349.8,355 341.3,349.9ZM356.8,366.7 356.8,376.9 348.3,371.8ZM363.8,362.5 363.8,372.7 355.3,367.6ZM370.8,354 370.8,364.2 362.3,359.1ZM377.8,354.3 377.8,364.5 369.3,359.4ZM384.8,355.4 384.8,365.6 376.3,360.5ZM391.9,358 391.9,368.2 383.4,363.1ZM398.9,350.9 398.9,361.1 390.4,356ZM405.9,342.6 405.9,352.8 397.4,347.7ZM412.9,359.9 412.9,370.1 404.4,365ZM419.9,354.4 419.9,364.6 411.4,359.5ZM426.9,355.6 426.9,365.8 418.4,360.7ZM433.9,364.8 433.9,375 425.4,369.9ZM440.9,361.6 440.9,371.8 432.4,366.7ZM447.9,353.9 447.9,364.1 439.4,359ZM454.9,352.1 454.9,362.3 446.4,357.2ZM461.9,363.7 461.9,373.9 453.4,368.8ZM468.9,359.9 468.9,370.1 460.4,365ZM475.9,339.4 475.9,349.6 467.4,344.5ZM482.9,362.3 482.9,372.5 474.4,367.4ZM489.9,360.3 489.9,370.5 481.4,365.4ZM496.9,349.6 496.9,359.8 488.4,354.7ZM503.9,363.9 503.9,374.1 495.4,369ZM510.9,349.8 510.9,360 502.4,354.9ZM517.9,352.7 517.9,362.9 509.4,357.8ZM525,359.2 525,369.4 516.5,364.3ZM532,356 532,366.2 523.5,361.1Z" fill="none" stroke="#c000c8" stroke-width="1.8"/>
</g>
<text x="62.8" y="402.8" font-size="17.5" text-anchor="middle" class="tk">0</text>
<text x="156.2" y="402.8" font-size="17.5" text-anchor="middle" class="tk">20</text>
<text x="249.6" y="402.8" font-size="17.5" text-anchor="middle" class="tk">40</text>
<text x="343" y="402.8" font-size="17.5" text-anchor="middle" class="tk">60</text>
<text x="436.4" y="402.8" font-size="17.5" text-anchor="middle" class="tk">80</text>
<text x="529.8" y="402.8" font-size="17.5" text-anchor="middle" class="tk">100</text>
<text x="56.6" y="385" font-size="17.5" text-anchor="end" class="tk">0</text>
<text x="56.6" y="312.2" font-size="17.5" text-anchor="end" class="tk">0.2</text>
<text x="56.6" y="239.4" font-size="17.5" text-anchor="end" class="tk">0.4</text>
<text x="56.6" y="166.6" font-size="17.5" text-anchor="end" class="tk">0.6</text>
<text x="56.6" y="93.8" font-size="17.5" text-anchor="end" class="tk">0.8</text>
<text x="54.6" y="21" font-size="17.5" text-anchor="end" class="tk">1</text>
<text x="208.6" y="428" font-size="19" class="lb" textLength="95.2" lengthAdjust="spacing">Frequency</text>
<text x="305.7" y="427" font-size="14.5" style="font-family:'Liberation Sans','Noto Sans CJK SC',sans-serif;font-weight:bold">（</text>
<text x="325.2" y="428" font-size="18.6" class="lb">MHz</text>
<text x="366.4" y="427" font-size="14.5" style="font-family:'Liberation Sans','Noto Sans CJK SC',sans-serif;font-weight:bold">）</text>
<text transform="translate(22.6,196.4) rotate(-90)" font-size="18" class="lb" text-anchor="middle" textLength="196" lengthAdjust="spacing">Normalized amplitude</text>
<rect x="287.5" y="175.5" width="237.0" height="139.0" fill="#fff" stroke="#555555" stroke-width="1.1"/>
<g clip-path="url(#ci)">
<polyline points="288.5,308.1 289.7,308.2 290.9,307.9 292.1,307.5 293.2,307.8 294.4,308.3 295.6,308.1 296.8,307.9 298,307.6 299.2,307.9 300.4,308.1 301.5,308.6 302.7,307.5 303.9,308.4 305.1,308.2 306.3,307.5 307.5,308.5 308.7,307.4 309.8,308.5 311,308.7 312.2,308.1 313.4,307.7 314.6,308.3 315.8,307.6 317,308.3 318.1,307.6 319.3,308.6 320.5,308.4 321.7,308.6 322.9,307.8 324.1,308.2 325.3,307.9 326.4,308.5 327.6,307.8 328.8,306.7 330,308.7 331.2,308.4 332.4,307.5 333.6,307.6 334.8,307.5 335.9,308.5 337.1,308 338.3,308.7 339.5,308.2 340.7,308 341.9,308.4 343.1,308.2 344.2,308.3 345.4,308.7 346.6,308.7 347.8,307.7 349,308.9 350.2,306.8 351.4,307.4 352.5,306.8 353.7,307.7 354.9,308.9 356.1,308.6 357.3,308.4 358.5,308.5 359.7,308.7 360.8,307.4 362,307.4 363.2,307.7 364.4,308.4 365.6,307.6 366.8,307.6 368,308.3 369.1,308.6 370.3,308.6 371.5,308.2 372.7,307.6 373.9,308.7 375.1,308.2 376.3,308.3 377.4,307.4 378.6,308.6 379.8,307.9 381,308.3 382.2,307.9 383.4,307.6 384.6,307.6 385.7,307.6 386.9,308.4 388.1,308.4 389.3,308.6 390.5,308.4 391.7,308.6 392.9,307.7 394,308.8 395.2,308.5 396.4,307.7 397.6,307.7 398.8,307 400,308.3 401.2,308.8 402.3,307.7 403.5,308.4 404.7,307.7 405.9,308.9 407.1,308.8 408.3,308 409.5,307.9 410.7,308.1 411.8,308.1 413,308 414.2,308.6 415.4,308.7 416.6,308.3 417.8,308.1 419,308.4 420.1,308.5 421.3,308.2 422.5,308.2 423.7,308.4 424.9,307.3 426.1,307.2 427.3,308.8 428.4,308.2 429.6,308.5 430.8,308.3 432,308.8 433.2,308.7 434.4,308.8 435.6,308.6 436.7,307.9 437.9,308.7 439.1,307.5 440.3,307.7 441.5,308.4 442.7,307.9 443.9,307.2 445,308.6 446.2,308.1 447.4,308.2 448.6,308.4 449.8,308.4 451,308.7 452.2,307.9 453.3,308.5 454.5,308.2 455.7,307.3 456.9,308.3 458.1,308.4 459.3,307.3 460.5,308 461.6,308 462.8,308.5 464,307.9 465.2,308.3 466.4,308.1 467.6,308.3 468.8,308.7 469.9,307.5 471.1,307.9 472.3,307.1 473.5,308.4 474.7,308.4 475.9,308.6 477.1,308.4 478.2,308.3 479.4,308.5 480.6,308.4 481.8,308.4 483,307.5 484.2,308.2 485.4,307.6 486.6,308.8 487.7,308.5 488.9,307.2 490.1,308.8 491.3,308.7 492.5,308.1 493.7,308.4 494.9,308.5 496,308 497.2,308 498.4,308.5 499.6,308.1 500.8,308.2 502,307.6 503.2,308.7 504.3,308.5 505.5,308 506.7,308.8 507.9,307.6 509.1,307.1 510.3,308.3 511.5,307.7 512.6,308.4 513.8,307.2 515,308.5 516.2,308.9 517.4,308.7 518.6,308.2 519.8,308.8 520.9,306.9 522.1,308 523.3,308 524.5,308" fill="none" stroke="#ff0000" stroke-width="3.0" stroke-linejoin="round"/>
<polyline points="288.5,300.2 289.7,291.4 290.9,295.7 292.1,300 293.2,302.1 294.4,304.3 295.6,301.7 296.8,301.1 298,305.5 299.2,289.8 300.4,302.5 301.5,298.5 302.7,305.9 303.9,298.3 305.1,296.8 306.3,305.6 307.5,272.2 308.7,304 309.8,302.4 311,295.2 312.2,301.4 313.4,291.7 314.6,302.8 315.8,301.7 317,296 318.1,292.3 319.3,281 320.5,302 321.7,292.4 322.9,300.3 324.1,296.3 325.3,302.9 326.4,292.9 327.6,295.7 328.8,300.6 330,301.7 331.2,301.4 332.4,289.5 333.6,299.7 334.8,297.3 335.9,289.5 337.1,300.5 338.3,288.6 339.5,302 340.7,307.6 341.9,305.1 343.1,296 344.2,300.7 345.4,293 346.6,298.6 347.8,296.2 349,301.1 350.2,297.8 351.4,295.9 352.5,300.8 353.7,299.2 354.9,292.7 356.1,289.6 357.3,301.2 358.5,305.9 359.7,292.8 360.8,294.3 362,286.7 363.2,294.7 364.4,300.9 365.6,292.6 366.8,298.4 368,295.7 369.1,291.4 370.3,297.9 371.5,288.5 372.7,300.5 373.9,300.8 375.1,296.9 376.3,300.4 377.4,295.8 378.6,298.6 379.8,295.1 381,293.2 382.2,298.1 383.4,290.3 384.6,294.3 385.7,292.4 386.9,307.3 388.1,307.5 389.3,297 390.5,301.4 391.7,291.9 392.9,300.6 394,295.1 395.2,302.7 396.4,297.1 397.6,290.9 398.8,292.2 400,300.9 401.2,299.3 402.3,298.5 403.5,301.2 404.7,293.5 405.9,287.2 407.1,291.6 408.3,301.7 409.5,296.2 410.7,288.4 411.8,301 413,292.6 414.2,293.9 415.4,291.4 416.6,305.5 417.8,289.9 419,285.2 420.1,302.7 421.3,297 422.5,305.3 423.7,297.5 424.9,295.7 426.1,295 427.3,292.4 428.4,302 429.6,304.8 430.8,293.4 432,307.1 433.2,302.9 434.4,302.8 435.6,294.4 436.7,299.9 437.9,292.9 439.1,296.5 440.3,292.8 441.5,294.2 442.7,291.6 443.9,302.2 445,301.1 446.2,297.1 447.4,297.8 448.6,294.4 449.8,293.7 451,301.8 452.2,304.7 453.3,295.1 454.5,296.1 455.7,302.2 456.9,306.1 458.1,307.2 459.3,302.6 460.5,302.3 461.6,303.2 462.8,306.3 464,303.8 465.2,301.2 466.4,305.3 467.6,303.3 468.8,294.5 469.9,292.6 471.1,291.9 472.3,300.4 473.5,304.6 474.7,302.3 475.9,296.3 477.1,300.4 478.2,298 479.4,295.2 480.6,296.6 481.8,292.3 483,305.4 484.2,301.9 485.4,305.4 486.6,298.8 487.7,297.3 488.9,302.5 490.1,306.1 491.3,293.9 492.5,303.9 493.7,303.4 494.9,300.7 496,288.7 497.2,296.2 498.4,295.7 499.6,300.9 500.8,300.4 502,304.4 503.2,303.6 504.3,294.5 505.5,300.1 506.7,302.1 507.9,284.1 509.1,291.7 510.3,302.4 511.5,300 512.6,298.1 513.8,303.9 515,300.1 516.2,302.1 517.4,293.6 518.6,305.2 519.8,283 520.9,302.8 522.1,301.4 523.3,305.7 524.5,290.4" fill="none" stroke="#008000" stroke-width="2.0" stroke-dasharray="6,6" stroke-linejoin="round"/><path d="M285.8,292.8 296,292.8 290.9,301.3ZM307.1,298.5 317.3,298.5 312.2,307ZM328.5,296.9 338.7,296.9 333.6,305.4ZM349.8,289.9 360,289.9 354.9,298.4ZM371.2,297.6 381.4,297.6 376.3,306.1ZM392.5,288 402.7,288 397.6,296.5ZM413.9,282.4 424.1,282.4 419,290.9ZM435.2,289.9 445.4,289.9 440.3,298.4ZM456.5,300.4 466.7,300.4 461.6,308.9ZM477.9,302.6 488.1,302.6 483,311.1ZM499.2,291.7 509.4,291.7 504.3,300.2Z" fill="none" stroke="#008000" stroke-width="1.8"/>
<polyline points="288.5,299.2 289.7,296.2 290.9,274.3 292.1,276.5 293.2,296.5 294.4,300.7 295.6,301.9 296.8,274.2 298,279.9 299.2,306.5 300.4,287.6 301.5,300.7 302.7,274.9 303.9,301.7 305.1,303.8 306.3,285.6 307.5,222.5 308.7,285.4 309.8,302.2 311,285.1 312.2,292.4 313.4,279.6 314.6,270 315.8,304.2 317,293.9 318.1,285.2 319.3,291.8 320.5,288.7 321.7,248 322.9,271 324.1,282.9 325.3,291.1 326.4,297.2 327.6,300.9 328.8,300.7 330,289.4 331.2,285.4 332.4,281.9 333.6,278.6 334.8,297.7 335.9,296.6 337.1,299.9 338.3,291.8 339.5,275.8 340.7,285.9 341.9,284 343.1,300.9 344.2,264.1 345.4,279.8 346.6,285.6 347.8,297.6 349,285.8 350.2,290.8 351.4,278.3 352.5,291.6 353.7,294.7 354.9,304.2 356.1,307.2 357.3,298.8 358.5,266.6 359.7,288.4 360.8,293.4 362,285.1 363.2,298.2 364.4,285.6 365.6,293.1 366.8,303.8 368,289.7 369.1,265.7 370.3,303.7 371.5,262.1 372.7,298.3 373.9,289 375.1,271.4 376.3,272.3 377.4,300.2 378.6,287.1 379.8,276.9 381,295.2 382.2,285 383.4,275.9 384.6,292.3 385.7,293.1 386.9,287.4 388.1,289.9 389.3,291.8 390.5,286.6 391.7,301.6 392.9,304.9 394,305.5 395.2,289.9 396.4,294.4 397.6,282.9 398.8,272.4 400,302.3 401.2,295.6 402.3,294.7 403.5,291.8 404.7,278.9 405.9,290.4 407.1,297.3 408.3,288.8 409.5,296.7 410.7,291.5 411.8,298.4 413,291.3 414.2,293.3 415.4,289.2 416.6,291.3 417.8,291.1 419,286.6 420.1,301.7 421.3,270.1 422.5,289.8 423.7,273.4 424.9,295.1 426.1,299.2 427.3,256.3 428.4,283.3 429.6,271.5 430.8,293.8 432,260.5 433.2,281.2 434.4,279.5 435.6,279.5 436.7,283.8 437.9,302.6 439.1,296.5 440.3,285.1 441.5,280.2 442.7,289.1 443.9,291.3 445,281 446.2,284.4 447.4,302.6 448.6,296.5 449.8,280.3 451,286 452.2,306.6 453.3,289.7 454.5,301.9 455.7,292.8 456.9,265 458.1,303.6 459.3,283.5 460.5,293.2 461.6,270.9 462.8,281.8 464,300.5 465.2,289.3 466.4,262.7 467.6,297.9 468.8,287.6 469.9,298.5 471.1,299.7 472.3,296.7 473.5,297.6 474.7,273.9 475.9,299 477.1,294.6 478.2,282.1 479.4,273.3 480.6,272.7 481.8,290.1 483,281.8 484.2,301.7 485.4,288.8 486.6,294.7 487.7,281.2 488.9,290.5 490.1,301.6 491.3,282.3 492.5,292.3 493.7,293.2 494.9,303.4 496,279.1 497.2,281 498.4,281.6 499.6,303.6 500.8,288.3 502,295.7 503.2,292 504.3,276.4 505.5,283.4 506.7,277.9 507.9,300.7 509.1,281.8 510.3,302.2 511.5,307 512.6,289.3 513.8,297.8 515,285.4 516.2,291.4 517.4,285.9 518.6,284.7 519.8,276.9 520.9,289.4 522.1,275.1 523.3,281.7 524.5,297.6" fill="none" stroke="#edb120" stroke-width="2.0" stroke-dasharray="6,6" stroke-linejoin="round"/><path d="M296.3,301.4 296.3,311.6 304.8,306.5ZM317.7,283.6 317.7,293.8 326.2,288.7ZM339,278.9 339,289.1 347.5,284ZM360.4,293.1 360.4,303.3 368.9,298.2ZM381.7,287.2 381.7,297.4 390.2,292.3ZM403.1,285.3 403.1,295.5 411.6,290.4ZM424.4,251.2 424.4,261.4 432.9,256.3ZM445.8,291.4 445.8,301.6 454.3,296.5ZM467.1,293.4 467.1,303.6 475.6,298.5ZM488.5,277.2 488.5,287.4 497,282.3ZM509.8,284.2 509.8,294.4 518.3,289.3Z" fill="none" stroke="#edb120" stroke-width="1.8"/>
<polyline points="288.5,281.7 289.7,285.6 290.9,276.4 292.1,258.9 293.2,295 294.4,295.6 295.6,298.5 296.8,274.6 298,277.1 299.2,295.2 300.4,274.7 301.5,251.9 302.7,269.7 303.9,222.4 305.1,258.5 306.3,225.8 307.5,246 308.7,261.1 309.8,257.1 311,250.7 312.2,252.2 313.4,240.3 314.6,293.6 315.8,293 317,296.3 318.1,270.9 319.3,235.9 320.5,272.5 321.7,274.8 322.9,300 324.1,263.1 325.3,283.8 326.4,265.6 327.6,285.1 328.8,288.7 330,252.9 331.2,273.8 332.4,276.4 333.6,277.9 334.8,268.9 335.9,227.7 337.1,288.9 338.3,278.6 339.5,288.4 340.7,245.2 341.9,296.3 343.1,307.3 344.2,294.3 345.4,272.9 346.6,292.8 347.8,223.7 349,251.5 350.2,290.8 351.4,277 352.5,288.9 353.7,244.2 354.9,292.8 356.1,250.9 357.3,307.4 358.5,271.1 359.7,293.8 360.8,283.3 362,280.5 363.2,273.8 364.4,289.2 365.6,267.8 366.8,254 368,277.4 369.1,222.8 370.3,258.8 371.5,296 372.7,286.8 373.9,290.9 375.1,284.3 376.3,293.8 377.4,296.8 378.6,267 379.8,296.5 381,287.9 382.2,291.6 383.4,307.1 384.6,281.9 385.7,264.1 386.9,264.6 388.1,296.6 389.3,286.8 390.5,256.3 391.7,299.9 392.9,291.9 394,297.3 395.2,266.8 396.4,246.2 397.6,284 398.8,290.5 400,299.8 401.2,285.7 402.3,296.2 403.5,267.7 404.7,278.2 405.9,280.2 407.1,258.7 408.3,306.5 409.5,273.1 410.7,283.8 411.8,268.4 413,299.3 414.2,299.9 415.4,267.5 416.6,239.4 417.8,293.7 419,277.3 420.1,302.8 421.3,293.6 422.5,214.1 423.7,228.8 424.9,290.1 426.1,256.5 427.3,292.4 428.4,243.4 429.6,279.6 430.8,297.5 432,299.6 433.2,261.3 434.4,265.9 435.6,272.6 436.7,290 437.9,278.5 439.1,228 440.3,253 441.5,300.7 442.7,299.3 443.9,294.5 445,293.8 446.2,280.5 447.4,290.1 448.6,272.1 449.8,303.9 451,283.6 452.2,293.6 453.3,279 454.5,262.5 455.7,298 456.9,256.7 458.1,293.4 459.3,288.4 460.5,287.5 461.6,295.6 462.8,273.9 464,249.7 465.2,241.5 466.4,276.2 467.6,265.2 468.8,240.5 469.9,290.4 471.1,260.5 472.3,303.9 473.5,236.7 474.7,279.1 475.9,275.4 477.1,279.2 478.2,266.6 479.4,298.9 480.6,284.6 481.8,307.4 483,284.1 484.2,303 485.4,283.9 486.6,305.1 487.7,291.8 488.9,241.2 490.1,294.6 491.3,219.9 492.5,270.9 493.7,298.3 494.9,269.4 496,299.2 497.2,286.3 498.4,268.6 499.6,268.9 500.8,287.5 502,297.3 503.2,289.1 504.3,280.9 505.5,294.3 506.7,279.5 507.9,297.7 509.1,304.3 510.3,280.9 511.5,306.3 512.6,287 513.8,292.9 515,284.5 516.2,264.5 517.4,289.7 518.6,279.7 519.8,287 520.9,272.9 522.1,264.2 523.3,274.5 524.5,275.3" fill="none" stroke="#c000c8" stroke-width="2.0" stroke-dasharray="6,6" stroke-linejoin="round"/><path d="M296.1,289.9 296.1,300.1 287.6,295ZM309.1,220.7 309.1,230.9 300.6,225.8ZM322.2,230.8 322.2,241 313.7,235.9ZM335.2,271.3 335.2,281.5 326.7,276.4ZM348.3,267.8 348.3,278 339.8,272.9ZM361.3,266 361.3,276.2 352.8,271.1ZM374.3,290.9 374.3,301.1 365.8,296ZM387.4,276.8 387.4,287 378.9,281.9ZM400.4,278.9 400.4,289.1 391.9,284ZM413.5,278.7 413.5,288.9 405,283.8ZM426.5,223.7 426.5,233.9 418,228.8ZM439.6,284.9 439.6,295.1 431.1,290ZM452.6,298.8 452.6,309 444.1,303.9ZM465.7,268.8 465.7,279 457.2,273.9ZM478.7,270.3 478.7,280.5 470.2,275.4ZM491.8,236.1 491.8,246.3 483.3,241.2ZM504.8,292.2 504.8,302.4 496.3,297.3ZM517.8,279.4 517.8,289.6 509.3,284.5Z" fill="none" stroke="#c000c8" stroke-width="1.8"/>
</g>
<line x1="417" y1="315" x2="429" y2="346" stroke="#000" stroke-width="1.2"/>
<path d="M433.6,355.7L423.3,344.7L432.9,340.3Z" fill="#000"/>
<rect x="427.5" y="16.5" width="100.0" height="102.0" fill="#fff" stroke="#555555" stroke-width="1"/>
<line x1="432" y1="28.5" x2="476" y2="28.5" stroke="#ff0000" stroke-width="2.1"/>
<text x="478.8" y="34.5" font-size="16">LFM</text>
<line x1="432" y1="51.5" x2="472.6" y2="51.5" stroke="#008000" stroke-width="2" stroke-dasharray="5.8,5.8"/>
<path d="M448.9,48.7 459.1,48.7 454,57.2Z" fill="none" stroke="#008000" stroke-width="1.9"/>
<text x="479.0" y="54.4" font-size="15" textLength="10.6" lengthAdjust="spacingAndGlyphs" style="font-family:'Liberation Serif',serif;font-style:italic;stroke:#000;stroke-width:0.6px">α</text>
<text x="489" y="61.3" font-size="13">s</text>
<text x="500.7" y="54.3" font-size="15.5">= 1</text>
<line x1="432" y1="77.7" x2="472.6" y2="77.7" stroke="#edb120" stroke-width="2" stroke-dasharray="5.8,5.8"/>
<path d="M451.2,72.6 451.2,82.8 459.7,77.7Z" fill="none" stroke="#edb120" stroke-width="1.9"/>
<text x="479.0" y="80.6" font-size="15" textLength="10.6" lengthAdjust="spacingAndGlyphs" style="font-family:'Liberation Serif',serif;font-style:italic;stroke:#000;stroke-width:0.6px">α</text>
<text x="489" y="87.5" font-size="13">s</text>
<text x="500.7" y="80.5" font-size="15.5">= 2</text>
<line x1="432" y1="104.3" x2="472.6" y2="104.3" stroke="#c000c8" stroke-width="2" stroke-dasharray="5.8,5.8"/>
<path d="M456.8,99.2 456.8,109.4 448.3,104.3Z" fill="none" stroke="#c000c8" stroke-width="1.9"/>
<text x="479.0" y="107.2" font-size="15" textLength="10.6" lengthAdjust="spacingAndGlyphs" style="font-family:'Liberation Serif',serif;font-style:italic;stroke:#000;stroke-width:0.6px">α</text>
<text x="489" y="114.1" font-size="13">s</text>
<text x="500.7" y="107.1" font-size="15.5">= 5</text>
</svg></body></html>
